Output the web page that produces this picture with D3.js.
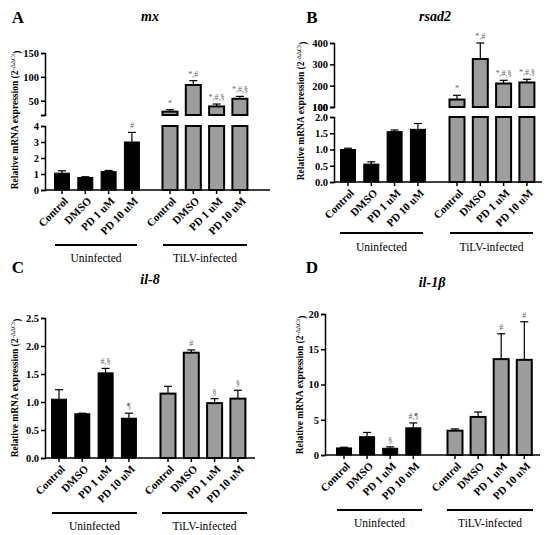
<!DOCTYPE html>
<html>
<head>
<meta charset="utf-8">
<script src="https://cdn.jsdelivr.net/npm/d3@7"></script>
<style>
  body { margin: 0; background: white; }
  text { font-family: "Liberation Serif", "DejaVu Serif", serif; }
</style>
</head>
<body>
<div id="vis"></div>
<script>
// data
const categories = ["Control", "DMSO", "PD 1 uM", "PD 10 uM"];
const groups = ["Uninfected", "TiLV-infected"];

const mxMean = [1.05, 0.78, 1.15, 3.0, 27, 83, 38, 54];
const mxSem = [0.15, 0.05, 0.07, 0.6, 4, 9, 5, 5];
const mxSig = ["", "", "", "#", "*", "*,#", "*,#,§", "*,#,§"];

const rsadMean = [1.0, 0.55, 1.55, 1.62, 135, 325, 210, 215];
const rsadSem = [0.04, 0.07, 0.05, 0.18, 20, 75, 15, 15];
const rsadSig = ["", "", "", "", "*", "*,#", "*,#,§", "*,#,§"];

const il8Mean = [1.05, 0.79, 1.52, 0.71, 1.15, 1.88, 0.98, 1.06];
const il8Sem = [0.17, 0.01, 0.08, 0.09, 0.13, 0.05, 0.08, 0.15];
const il8Sig = ["", "", "#,§", "¶", "", "#", "§", "§"];

const il1bMean = [1.0, 2.6, 0.95, 3.85, 3.45, 5.4, 13.6, 13.5];
const il1bSem = [0.1, 0.6, 0.2, 0.7, 0.25, 0.7, 3.6, 5.4];
const il1bSig = ["", "", "§", "#,¶", "", "", "#", "#"];

const svg = d3.select('#vis').append('svg')
  .attr('width', 550).attr('height', 535)
  .style('background-color', 'white');

// panel layouts (pixel placement only)
const panels = [
  { letter: "A", title: "mx", mean: mxMean, sem: mxSem, sig: mxSig,
    lx: 18, ly: 23, tx: 150, ty: 21, ylx: 15, yly: 120,
    axisX: 45, xEnd: 270, first: 62, step: 23.3, gapAt: 170,
    lower: { domain: [0, 4], range: [190, 126], ticks: [0, 1, 2, 3, 4], fmt: d3.format('d') },
    upper: { domain: [20, 150], range: [115, 53], ticks: [50, 100, 150], fmt: d3.format('d') },
    lineY: 245, lines: [[55, 137], [163, 247]], labY: 262 },
  { letter: "B", title: "rsad2", mean: rsadMean, sem: rsadSem, sig: rsadSig,
    lx: 312, ly: 23, tx: 435, ty: 21, ylx: 301, yly: 111,
    axisX: 334, xEnd: 542, first: 348, step: 23.3, gapAt: 457,
    lower: { domain: [0, 2], range: [182, 117], ticks: [0, 0.5, 1, 1.5, 2], fmt: d3.format('.1f') },
    upper: { domain: [100, 400], range: [107, 43], ticks: [100, 200, 300, 400], fmt: d3.format('d') },
    lineY: 233, lines: [[340, 423], [450, 533]], labY: 251 },
  { letter: "C", title: "il-8", mean: il8Mean, sem: il8Sem, sig: il8Sig,
    lx: 18, ly: 273, tx: 150, ty: 284, ylx: 15, yly: 388,
    axisX: 45, xEnd: 255, first: 59, step: 23.3, gapAt: 168,
    lower: { domain: [0, 2.5], range: [458, 318], ticks: [0, 0.5, 1, 1.5, 2, 2.5], fmt: d3.format('.1f') },
    upper: null,
    lineY: 513, lines: [[52, 137], [162, 247]], labY: 530 },
  { letter: "D", title: "il-1β", mean: il1bMean, sem: il1bSem, sig: il1bSig,
    lx: 312, ly: 273, tx: 432, ty: 287, ylx: 300, yly: 385,
    axisX: 325, xEnd: 540, first: 344, step: 23.1, gapAt: 455,
    lower: { domain: [0, 20], range: [455, 314], ticks: [0, 5, 10, 15, 20], fmt: d3.format('d') },
    upper: null,
    lineY: 510, lines: [[337, 422], [447, 533]], labY: 527 }
];

panels.forEach(drawPanel);

function drawPanel(p) {
  const g = svg.append('g');
  const bw = 15;
  const xPos = i => i < 4 ? p.first + i * p.step : p.gapAt + (i - 4) * p.step;

  const yLow = d3.scaleLinear().domain(p.lower.domain).range(p.lower.range);
  const yUp = p.upper ? d3.scaleLinear().domain(p.upper.domain).range(p.upper.range) : null;
  const lowMax = p.lower.domain[1];

  // letter and title
  g.append('text').attr('x', p.lx).attr('y', p.ly).attr('text-anchor', 'middle')
    .style('font-size', '17px').style('font-weight', 'bold').text(p.letter);
  g.append('text').attr('x', p.tx).attr('y', p.ty).attr('text-anchor', 'middle')
    .style('font-size', '14px').style('font-weight', 'bold').style('font-style', 'italic').text(p.title);

  // y axis label
  const yl = g.append('text')
    .attr('transform', `translate(${p.ylx},${p.yly}) rotate(-90)`)
    .attr('text-anchor', 'middle').attr('dy', '0.35em')
    .style('font-size', '9.5px').style('font-weight', 'bold');
  yl.append('tspan').text('Relative mRNA expression (2');
  yl.append('tspan').attr('dy', '-0.45em').style('font-size', '6.5px').style('font-weight', 'normal').text('-ΔΔCt');
  yl.append('tspan').attr('dy', '0.45em').text(')');

  // bars (lower segment, plus upper segment when broken)
  p.mean.forEach((v, i) => {
    const inf = i >= 4;
    const top = Math.min(v, lowMax);
    g.append('rect')
      .attr('x', xPos(i) - bw / 2).attr('width', bw)
      .attr('y', yLow(top)).attr('height', yLow(0) - yLow(top))
      .attr('fill', inf ? '#9d9d9d' : '#000')
      .attr('stroke', '#000').attr('stroke-width', inf ? 2 : 1);
    let errTop, errBase;
    if (v > lowMax && yUp) {
      const b = p.upper.domain[0];
      g.append('rect')
        .attr('x', xPos(i) - bw / 2).attr('width', bw)
        .attr('y', yUp(v)).attr('height', yUp(b) - yUp(v))
        .attr('fill', inf ? '#9d9d9d' : '#000')
        .attr('stroke', '#000').attr('stroke-width', inf ? 2 : 1);
      errBase = yUp(v); errTop = yUp(v + p.sem[i]);
    } else {
      errBase = yLow(v); errTop = yLow(v + p.sem[i]);
    }
    g.append('line').attr('x1', xPos(i)).attr('x2', xPos(i))
      .attr('y1', errBase).attr('y2', errTop).attr('stroke', '#000').attr('stroke-width', 1.2);
    g.append('line').attr('x1', xPos(i) - 4).attr('x2', xPos(i) + 4)
      .attr('y1', errTop).attr('y2', errTop).attr('stroke', '#000').attr('stroke-width', 1.2);
    if (p.sig[i]) {
      g.append('text').attr('x', xPos(i)).attr('y', errTop - 4)
        .attr('text-anchor', 'middle').attr('fill', '#666')
        .style('font-size', '8px').text(p.sig[i]);
    }
  });

  // y axes
  const axL = d3.axisLeft(yLow).tickValues(p.lower.ticks).tickFormat(p.lower.fmt).tickSize(4).tickPadding(2);
  const aL = g.append('g').attr('transform', `translate(${p.axisX},0)`).call(axL);
  styleAxis(aL);
  if (yUp) {
    const axU = d3.axisLeft(yUp).tickValues([p.upper.domain[0]].concat(p.upper.ticks))
      .tickFormat(d => p.upper.ticks.includes(d) ? p.upper.fmt(d) : '').tickSize(4).tickPadding(2);
    const aU = g.append('g').attr('transform', `translate(${p.axisX},0)`).call(axU);
    styleAxis(aU);
  }

  // x axis
  const base = yLow(0);
  g.append('line').attr('x1', p.axisX).attr('x2', p.xEnd).attr('y1', base).attr('y2', base)
    .attr('stroke', '#000').attr('stroke-width', 1.5);
  p.mean.forEach((v, i) => {
    const x = xPos(i);
    g.append('line').attr('x1', x).attr('x2', x).attr('y1', base).attr('y2', base + 4)
      .attr('stroke', '#000').attr('stroke-width', 1.5);
    g.append('text')
      .attr('transform', `translate(${x + 4},${base + 9}) rotate(-45)`)
      .attr('text-anchor', 'end').attr('dy', '0.35em')
      .style('font-size', '11px').style('font-weight', 'bold')
      .text(categories[i % 4]);
  });

  // group lines and labels
  p.lines.forEach((l, k) => {
    g.append('line').attr('x1', l[0]).attr('x2', l[1]).attr('y1', p.lineY).attr('y2', p.lineY)
      .attr('stroke', '#000').attr('stroke-width', 2);
    g.append('text').attr('x', (l[0] + l[1]) / 2).attr('y', p.labY)
      .attr('text-anchor', 'middle').style('font-size', '11.5px').text(groups[k]);
  });
}

function styleAxis(a) {
  a.select('.domain').attr('stroke-width', 1.5);
  a.selectAll('.tick line').attr('stroke-width', 1.5);
  a.selectAll('.tick text').style('font-size', '10.5px').style('font-weight', 'bold')
    .style('font-family', '"Liberation Serif", serif');
}
</script>
</body>
</html>
